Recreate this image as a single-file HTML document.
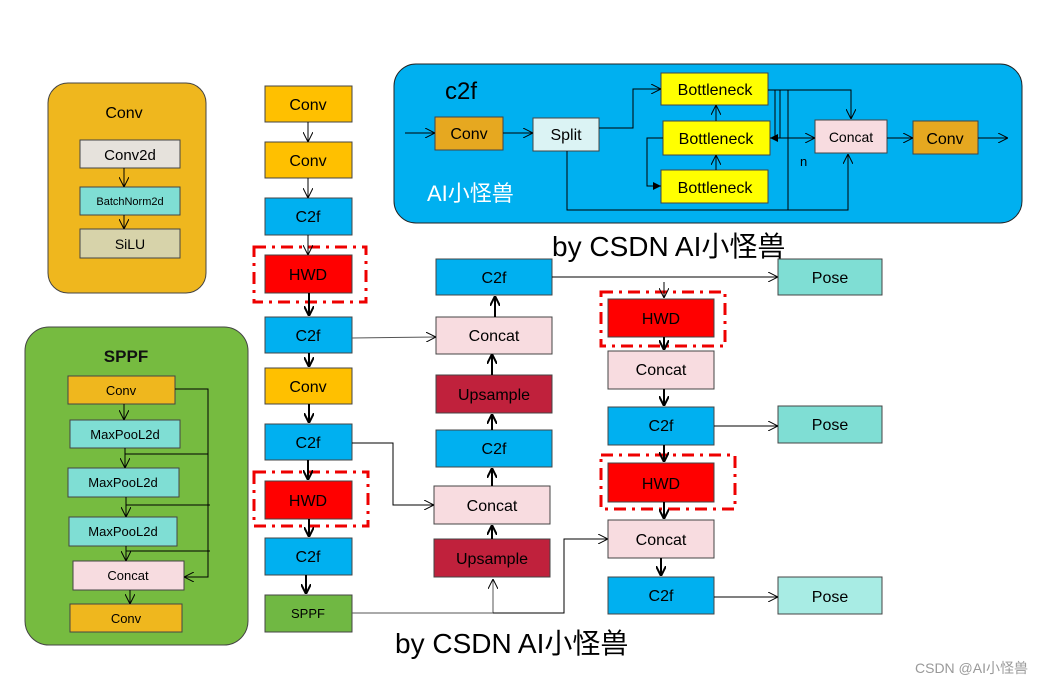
<!DOCTYPE html>
<html><head><meta charset="utf-8"><style>
body{margin:0;background:#fff;}
svg text{font-family:"Liberation Sans","Noto Sans CJK SC",sans-serif;}
</style></head><body>
<svg width="1057" height="686" viewBox="0 0 1057 686" xmlns="http://www.w3.org/2000/svg">
<defs>
<marker id="a" viewBox="0 0 10 10" refX="10" refY="5" markerWidth="10" markerHeight="10" markerUnits="userSpaceOnUse" orient="auto"><path d="M0,0 L10,5 L0,10" fill="none" stroke="#000" stroke-width="1"/></marker>
<marker id="b" viewBox="0 0 10 10" refX="10" refY="5" markerWidth="10" markerHeight="10" markerUnits="userSpaceOnUse" orient="auto"><path d="M0,0 L10,5 L0,10" fill="none" stroke="#000" stroke-width="2"/></marker>
<marker id="f" viewBox="0 0 10 10" refX="10" refY="5" markerWidth="8" markerHeight="8" markerUnits="userSpaceOnUse" orient="auto"><path d="M0,0 L10,5 L0,10Z" fill="#000"/></marker>
</defs>
<rect width="1057" height="686" fill="#fff"/>

<!-- Conv panel -->
<rect x="48" y="83" width="158" height="210" rx="20" fill="#efb71e" stroke="#444"/>
<text x="124" y="118" font-size="16" text-anchor="middle">Conv</text>
<rect x="80" y="140" width="100" height="28" fill="#e6e2dc" stroke="#444"/>
<text x="130" y="160" font-size="15" text-anchor="middle">Conv2d</text>
<rect x="80" y="187" width="100" height="28" fill="#7fded4" stroke="#444"/>
<text x="130" y="205" font-size="11" text-anchor="middle">BatchNorm2d</text>
<rect x="80" y="229" width="100" height="29" fill="#d7d3aa" stroke="#444"/>
<text x="130" y="249" font-size="14" text-anchor="middle">SiLU</text>
<g stroke="#000" fill="none"><line x1="124" y1="168" x2="124" y2="187" marker-end="url(#a)"/><line x1="124" y1="215" x2="124" y2="229" marker-end="url(#a)"/></g>

<!-- SPPF panel -->
<rect x="25" y="327" width="223" height="318" rx="24" fill="#76bb40" stroke="#444"/>
<text x="126" y="362" font-size="17" font-weight="bold" text-anchor="middle" fill="#111">SPPF</text>
<rect x="68" y="376" width="107" height="28" fill="#efb71e" stroke="#444"/><text x="121" y="395" font-size="13" text-anchor="middle">Conv</text>
<rect x="70" y="420" width="110" height="28" fill="#7fded4" stroke="#444"/><text x="125" y="439" font-size="13" text-anchor="middle">MaxPooL2d</text>
<rect x="68" y="468" width="111" height="29" fill="#7fded4" stroke="#444"/><text x="123" y="487" font-size="13" text-anchor="middle">MaxPooL2d</text>
<rect x="69" y="517" width="108" height="29" fill="#7fded4" stroke="#444"/><text x="123" y="536" font-size="13" text-anchor="middle">MaxPooL2d</text>
<rect x="73" y="561" width="111" height="29" fill="#f7dce0" stroke="#444"/><text x="128" y="580" font-size="13" text-anchor="middle">Concat</text>
<rect x="70" y="604" width="112" height="28" fill="#efb71e" stroke="#444"/><text x="126" y="623" font-size="13" text-anchor="middle">Conv</text>
<g stroke="#000" fill="none">
<line x1="124" y1="404" x2="124" y2="420" marker-end="url(#a)"/>
<line x1="125" y1="448" x2="125" y2="468" marker-end="url(#a)"/>
<line x1="126" y1="497" x2="126" y2="517" marker-end="url(#a)"/>
<line x1="126" y1="546" x2="126" y2="561" marker-end="url(#a)"/>
<line x1="130" y1="590" x2="130" y2="604" marker-end="url(#a)"/>
<polyline points="175,389 208,389 208,577 184,577" marker-end="url(#a)"/>
<line x1="125" y1="454" x2="208" y2="454"/>
<line x1="126" y1="505" x2="210" y2="505"/>
<line x1="126" y1="551" x2="210" y2="551"/>
</g>

<!-- main column -->
<g stroke="#444">
<rect x="265" y="86" width="87" height="36" fill="#ffc000"/>
<rect x="265" y="142" width="87" height="36" fill="#ffc000"/>
<rect x="265" y="198" width="87" height="37" fill="#00b0f0"/>
<rect x="265" y="255" width="87" height="38" fill="#ff0000"/>
<rect x="265" y="317" width="87" height="36" fill="#00b0f0"/>
<rect x="265" y="368" width="87" height="36" fill="#ffc000"/>
<rect x="265" y="424" width="87" height="36" fill="#00b0f0"/>
<rect x="265" y="481" width="87" height="38" fill="#ff0000"/>
<rect x="265" y="538" width="87" height="37" fill="#00b0f0"/>
<rect x="265" y="595" width="87" height="37" fill="#70b843"/>
</g>
<g font-size="16" text-anchor="middle">
<text x="308" y="110">Conv</text><text x="308" y="166">Conv</text><text x="308" y="222">C2f</text>
<text x="308" y="280">HWD</text><text x="308" y="341">C2f</text><text x="308" y="392">Conv</text>
<text x="308" y="448">C2f</text><text x="308" y="506">HWD</text><text x="308" y="562">C2f</text>
<text x="308" y="618" font-size="13">SPPF</text>
</g>
<g fill="none" stroke="#e00" stroke-width="3" stroke-dasharray="12,6,3,6">
<rect x="254" y="247" width="112" height="55"/>
<rect x="254" y="472" width="114" height="54"/>
<rect x="601" y="292" width="124" height="54"/>
<rect x="601" y="455" width="134" height="54"/>
</g>
<g stroke="#000" fill="none">
<line x1="308" y1="122" x2="308" y2="142" marker-end="url(#a)"/>
<line x1="308" y1="178" x2="308" y2="198" marker-end="url(#a)"/>
<line x1="308" y1="235" x2="308" y2="255" marker-end="url(#a)"/>
</g>
<g stroke="#000" stroke-width="2" fill="none">
<line x1="309" y1="293" x2="309" y2="316" marker-end="url(#b)"/>
<line x1="309" y1="353" x2="309" y2="367" marker-end="url(#b)"/>
<line x1="309" y1="404" x2="309" y2="423" marker-end="url(#b)"/>
<line x1="308" y1="460" x2="308" y2="480" marker-end="url(#b)"/>
<line x1="309" y1="519" x2="309" y2="537" marker-end="url(#b)"/>
<line x1="306" y1="575" x2="306" y2="594" marker-end="url(#b)"/>
</g>

<!-- second column -->
<g stroke="#444">
<rect x="436" y="259" width="116" height="36" fill="#00b0f0"/>
<rect x="436" y="317" width="116" height="37" fill="#f8dce0"/>
<rect x="436" y="375" width="116" height="38" fill="#c0213c"/>
<rect x="436" y="430" width="116" height="37" fill="#00b0f0"/>
<rect x="434" y="486" width="116" height="38" fill="#f8dce0"/>
<rect x="434" y="539" width="116" height="38" fill="#c0213c"/>
</g>
<g font-size="16" text-anchor="middle">
<text x="494" y="283">C2f</text><text x="494" y="341">Concat</text><text x="494" y="400">Upsample</text>
<text x="494" y="454">C2f</text><text x="492" y="511">Concat</text><text x="492" y="564">Upsample</text>
</g>
<g stroke="#000" stroke-width="2" fill="none">
<line x1="495" y1="317" x2="495" y2="296" marker-end="url(#b)"/>
<line x1="492" y1="375" x2="492" y2="354" marker-end="url(#b)"/>
<line x1="492" y1="430" x2="492" y2="414" marker-end="url(#b)"/>
<line x1="492" y1="486" x2="492" y2="468" marker-end="url(#b)"/>
<line x1="492" y1="539" x2="492" y2="525" marker-end="url(#b)"/>
</g>
<g stroke="#000" fill="none">
<polyline points="352,338 436,337" marker-end="url(#a)" stroke="#555"/>
<polyline points="352,443 393,443 393,505 434,505" marker-end="url(#a)"/>
<polyline points="352,613 493,613 493,579" marker-end="url(#a)" stroke="#555"/>
<polyline points="493,613 564,613 564,539 608,539" marker-end="url(#a)"/>
<line x1="552" y1="277" x2="778" y2="277" marker-end="url(#a)"/>
<line x1="664" y1="282" x2="664" y2="298" marker-end="url(#a)"/>
</g>

<!-- third column -->
<g stroke="#444">
<rect x="608" y="299" width="106" height="38" fill="#ff0000"/>
<rect x="608" y="351" width="106" height="38" fill="#f8dce0"/>
<rect x="608" y="407" width="106" height="38" fill="#00b0f0"/>
<rect x="608" y="463" width="106" height="39" fill="#ff0000"/>
<rect x="608" y="520" width="106" height="38" fill="#f8dce0"/>
<rect x="608" y="577" width="106" height="37" fill="#00b0f0"/>
<rect x="778" y="259" width="104" height="36" fill="#7fded4"/>
<rect x="778" y="406" width="104" height="37" fill="#7fded4"/>
<rect x="778" y="577" width="104" height="37" fill="#a8ece4"/>
</g>
<g font-size="16" text-anchor="middle">
<text x="661" y="324">HWD</text><text x="661" y="375">Concat</text><text x="661" y="431">C2f</text>
<text x="661" y="489">HWD</text><text x="661" y="545">Concat</text><text x="661" y="601">C2f</text>
<text x="830" y="283">Pose</text><text x="830" y="430">Pose</text><text x="830" y="602">Pose</text>
</g>
<g stroke="#000" stroke-width="2" fill="none">
<line x1="664" y1="337" x2="664" y2="350" marker-end="url(#b)"/>
<line x1="664" y1="389" x2="664" y2="406" marker-end="url(#b)"/>
<line x1="664" y1="445" x2="664" y2="462" marker-end="url(#b)"/>
<line x1="664" y1="502" x2="664" y2="519" marker-end="url(#b)"/>
<line x1="661" y1="558" x2="661" y2="576" marker-end="url(#b)"/>
</g>
<g stroke="#000" fill="none">
<line x1="714" y1="426" x2="778" y2="426" marker-end="url(#a)"/>
<line x1="714" y1="597" x2="778" y2="597" marker-end="url(#a)"/>
</g>

<!-- c2f panel -->
<rect x="394" y="64" width="628" height="159" rx="22" fill="#00b0f0" stroke="#222"/>
<text x="445" y="99" font-size="24" fill="#000">c2f</text>
<text x="427" y="201" font-size="22" fill="#fff">AI小怪兽</text>
<g stroke="#444">
<rect x="435" y="117" width="68" height="33" fill="#e6a820"/>
<rect x="533" y="118" width="66" height="33" fill="#dbf3f4"/>
<rect x="661" y="73" width="107" height="32" fill="#ffff00"/>
<rect x="663" y="121" width="107" height="34" fill="#ffff00"/>
<rect x="661" y="170" width="107" height="33" fill="#ffff00"/>
<rect x="815" y="120" width="72" height="33" fill="#f8dce0"/>
<rect x="913" y="121" width="65" height="33" fill="#e6a820"/>
</g>
<g font-size="16" text-anchor="middle">
<text x="469" y="139">Conv</text><text x="566" y="140">Split</text>
<text x="715" y="95">Bottleneck</text><text x="716" y="144">Bottleneck</text><text x="715" y="193">Bottleneck</text>
<text x="851" y="142" font-size="14">Concat</text><text x="945" y="144">Conv</text>
</g>
<text x="800" y="166" font-size="13">n</text>
<g stroke="#000" fill="none">
<line x1="405" y1="133" x2="435" y2="133" marker-end="url(#a)"/>
<line x1="503" y1="133" x2="533" y2="133" marker-end="url(#a)"/>
<polyline points="599,128 633,128 633,89 661,89" marker-end="url(#a)"/>
<line x1="716" y1="121" x2="716" y2="105" marker-end="url(#a)"/>
<line x1="716" y1="170" x2="716" y2="155" marker-end="url(#a)"/>
<polyline points="663,138 647,138 647,186 661,186" marker-end="url(#f)"/>
<polyline points="768,90 780,90 780,138 770,138" marker-end="url(#f)"/>
<line x1="775" y1="90" x2="775" y2="138"/>
<polyline points="768,90 851,90 851,119" marker-end="url(#a)"/>
<line x1="770" y1="138" x2="815" y2="138" marker-end="url(#a)"/>
<line x1="788" y1="90" x2="788" y2="210"/>
<polyline points="567,151 567,210 848,210 848,154" marker-end="url(#a)"/>
<line x1="887" y1="138" x2="913" y2="138" marker-end="url(#a)"/>
<line x1="978" y1="138" x2="1008" y2="138" marker-end="url(#a)"/>
</g>

<text x="552" y="256" font-size="28">by CSDN AI小怪兽</text>
<text x="395" y="653" font-size="28">by CSDN AI小怪兽</text>
<text x="915" y="673" font-size="14" fill="#999">CSDN @AI小怪兽</text>
</svg>
</body></html>
